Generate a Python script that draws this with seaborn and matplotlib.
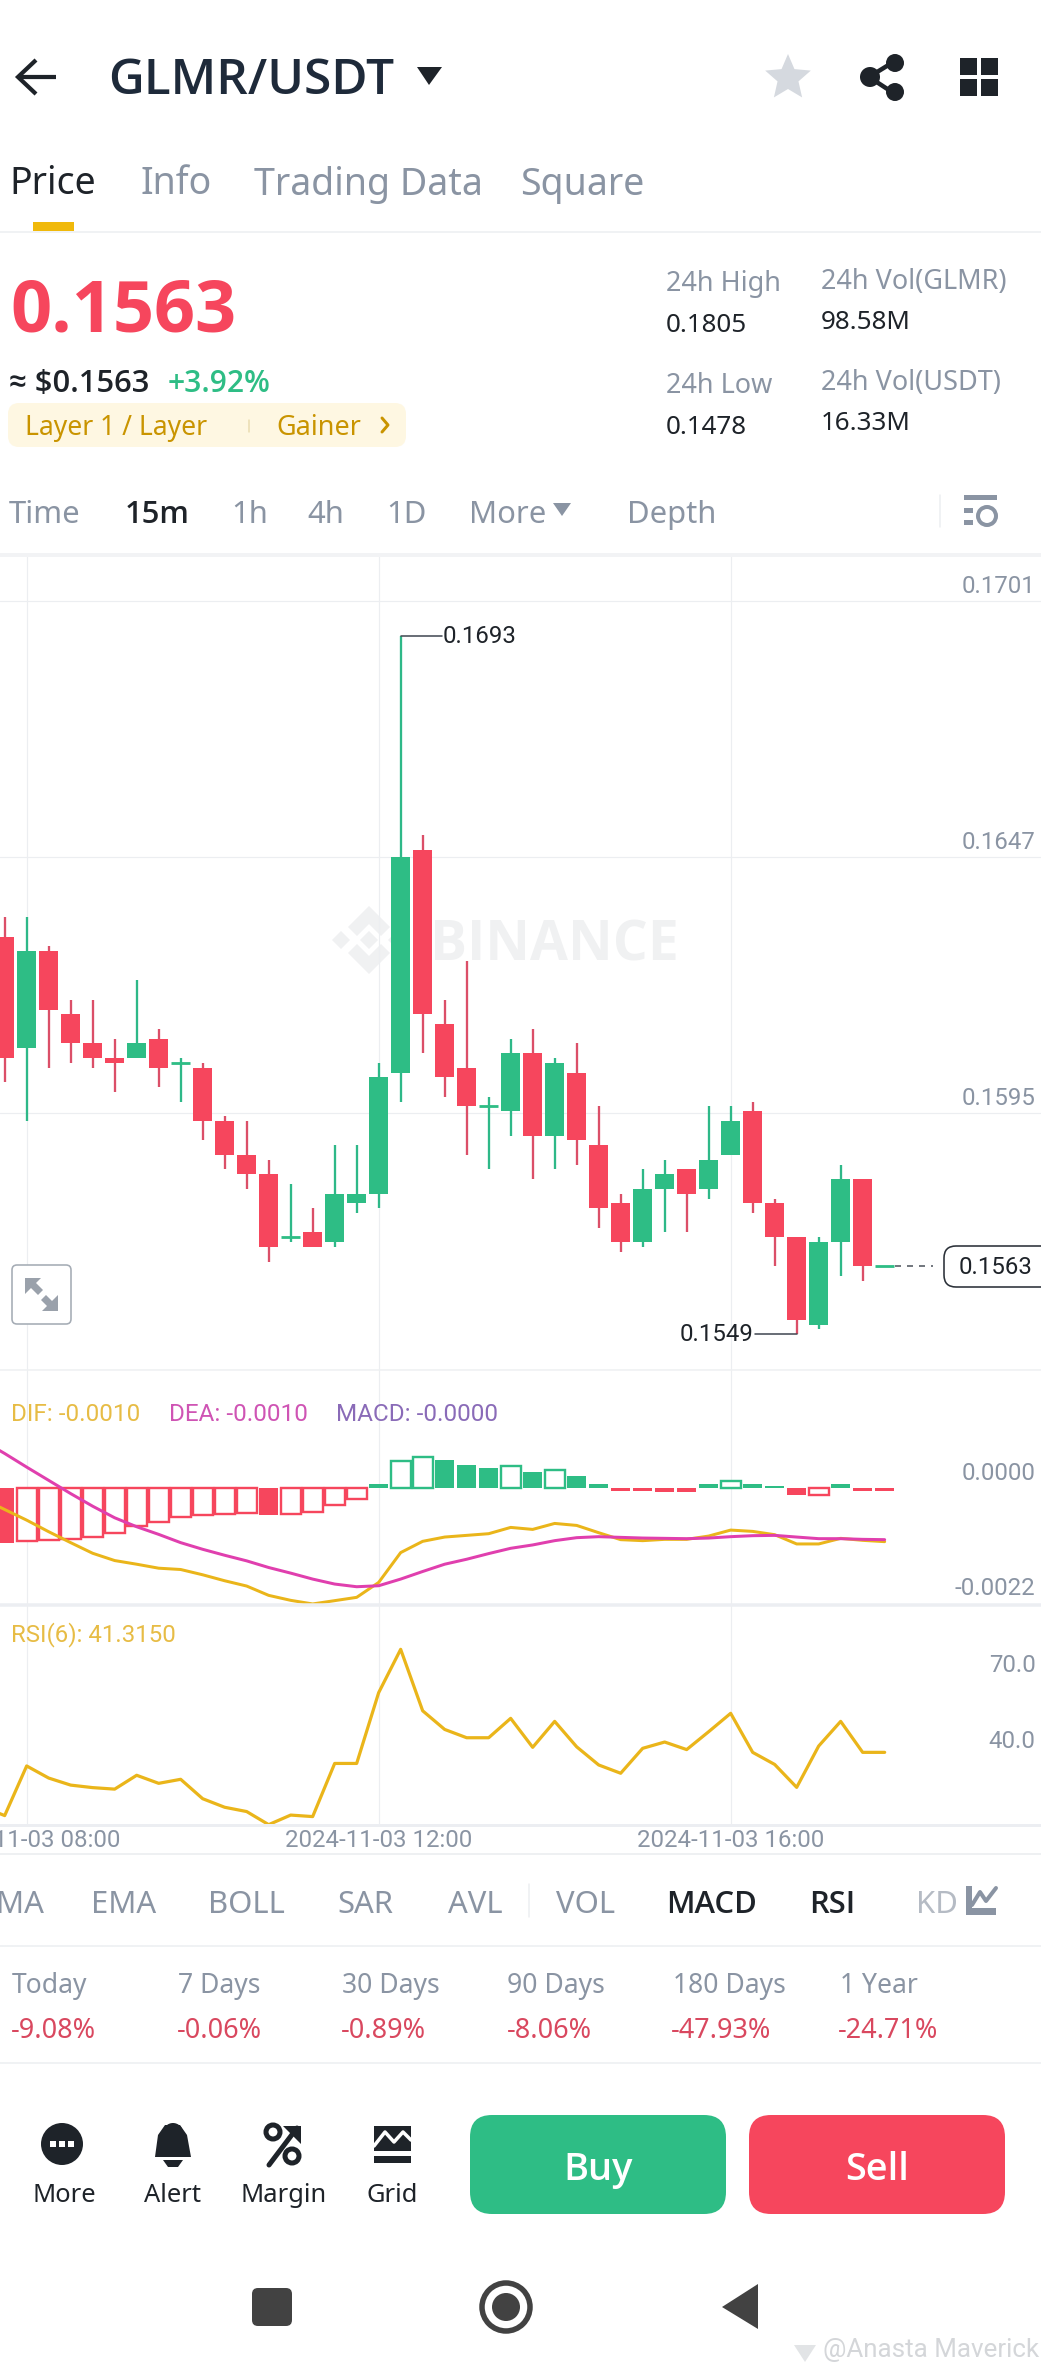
import numpy as np
import matplotlib
matplotlib.use("Agg")
import matplotlib.pyplot as plt
from matplotlib import font_manager as fm
from matplotlib.patches import FancyBboxPatch, Polygon, Circle, Rectangle
from matplotlib.transforms import ScaledTranslation
import seaborn as sns

# ---------- data ----------
candle_idx = list(range(41))
open_p = [.1631,.1608,.1628,.1615,.1609,.1606,.1606,.1610,.1605,.1604,.1593,.1586,.1582,.1569,.1570,.1568,.1576,.1578,.1603,.1649,
          .1613,.1604,.1596,.1595,.1607,.1590,.1603,.1588,.1576,.1568,.1579,.1583,.1579,.1586,.1595,.1576,.1569,.1551,.1568,.1581,.1563]
close_p = [.1606,.1628,.1616,.1609,.1606,.1605,.1609,.1604,.1605,.1593,.1586,.1582,.1567,.1569,.1567,.1578,.1578,.1602,.16475,.1615,
           .1602,.1596,.1596,.1607,.1590,.1605,.1589,.1575,.1568,.1579,.1582,.1578,.1585,.1593,.1576,.1569,.1552,.1568,.1581,.1563,.1563]
high_p = [.1635,.1635,.1629,.1618,.1618,.1610,.1622,.1612,.1606,.1605,.1594,.1593,.1585,.1580,.1575,.1588,.1588,.1605,.1693,.1652,
          .1618,.1626,.1598,.1610,.1612,.1606,.1609,.1596,.1578,.1583,.1585,.1583,.1596,.1596,.1597,.1577,.1569,.1569,.1584,.1581,.1563]
low_p = [.1601,.1593,.1604,.1605,.1604,.1599,.1606,.1600,.1597,.1589,.1583,.1579,.1564,.1568,.1567,.1567,.1574,.1575,.1597,.1607,
         .1598,.1586,.1583,.1590,.1581,.1583,.1584,.1571,.1566,.1567,.1570,.1570,.1577,.1586,.1574,.1563,.1549,.1550,.1561,.1560,.1563]
price_ticks = [.17003, .16475, .15946, .15417]
price_labels = ["0.1701", "0.1647", "0.1595", "0.1541"]
price_range = (.154171, .170977)
last_price = .1563

line_idx = list(range(-1, 41))
dif_e4 = [-2.0,-4.05,-6.08,-8.29,-10.38,-12.41,-13.80,-14.50,-15.26,-15.51,-16.52,-17.66,-18.67,-20.45,-21.40,-22.09,-21.46,-20.83,-17.98,-12.28,-10.13,
          -9.31,-8.99,-8.67,-7.47,-7.85,-6.71,-7.09,-8.48,-9.81,-10.00,-9.75,-9.75,-9.12,-7.98,-8.23,-8.86,-10.63,-10.63,-9.56,-9.94,-10.19]
dea_e4 = [9.1,6.65,4.05,1.52,-1.01,-3.42,-5.63,-7.34,-8.80,-10.38,-11.65,-12.79,-13.86,-15.13,-16.20,-17.34,-18.29,-18.80,-18.61,-17.34,-15.89,
          -14.50,-13.55,-12.47,-11.46,-10.82,-10.00,-9.43,-9.24,-9.37,-9.50,-9.56,-9.62,-9.50,-9.24,-9.05,-8.99,-9.31,-9.62,-9.62,-9.75,-9.81]
hist_e4 = [-10.5,-10.06,-9.87,-9.75,-9.24,-8.61,-7.22,-6.46,-5.44,-5.13,-4.94,-4.81,-5.13,-4.94,-4.56,-3.10,-1.96,.76,5.25,5.95,
           5.32,4.49,3.86,4.18,3.04,3.42,2.28,.82,-.44,-.44,-.76,-.76,.76,1.46,.76,.44,-1.27,-1.27,.76,-.44,-.44]
hist_hollow = [0,1,1,1,1,1,1,1,1,1,1,1,0,1,1,1,1,0,1,1,0,0,0,1,0,1,0,0,0,0,0,0,0,1,0,0,0,1,0,0,0]
macd_ticks = [0.0, -.0022]
macd_labels = ["0.0000", "-0.0022"]
rsi_vals = [19.7,16.2,35.9,31.1,28.3,27.3,26.7,32.2,29.0,30.6,22.9,19.5,17.8,12.6,16.4,15.8,36.9,36.9,65.0,82.2,57.8,
            50.4,47.1,47.1,54.8,43.3,53.6,43.5,36.3,33.0,42.9,45.4,42.4,49.5,56.8,41.3,36.5,27.4,43.8,53.6,41.3,41.3]
rsi_ticks = [70.0, 40.0]
rsi_labels = ["70.0", "40.0"]
time_ticks = [1, 17, 33]
time_labels = ["2024-11-03 08:00", "2024-11-03 12:00", "2024-11-03 16:00"]

stats_left = [("24h High", "0.1805"), ("24h Low", "0.1478")]
stats_right = [("24h Vol(GLMR)", "98.58M"), ("24h Vol(USDT)", "16.33M")]
periods = ["Today", "7 Days", "30 Days", "90 Days", "180 Days", "1 Year"]
period_changes = ["-9.08%", "-0.06%", "-0.89%", "-8.06%", "-47.93%", "-24.71%"]

# ---------- style ----------
RED, GREEN = "#F6465D", "#2EBD85"
RED_W, GREEN_W = "#DB4F68", "#2EB888"
DARK, GRAY, GRID = "#1E2329", "#8A94A3", "#ECEEF1"
YEL, PINK = "#EAB51A", "#E03FAE"
W, H = 1041, 2372
sns.set_theme(style="white")
plt.rcParams["font.family"] = ["Noto Sans", "DejaVu Sans"]
fig = plt.figure(figsize=(W / 100, H / 100), dpi=100, facecolor="white")
PX = 0.72  # points per pixel


def numeric_weight(w):
    if isinstance(w, str):
        return {"bold": 700, "semibold": 600, "demibold": 600, "medium": 500, "heavy": 800, "black": 900}.get(w, 400)
    return w


def family_with_weight(lo, hi):
    for name in ["Noto Sans", "Open Sans", "Inter", "Lato", "Roboto", "Liberation Sans", "DejaVu Sans"]:
        for f in fm.fontManager.ttflist:
            if f.name == name and f.style == "normal" and lo <= numeric_weight(f.weight) <= hi:
                return name, numeric_weight(f.weight)
    return "DejaVu Sans", 700


BOLD_FAM, BOLD_W = family_with_weight(650, 750)
MED_FAM, MED_W = family_with_weight(500, 650)
if MED_FAM == "DejaVu Sans":
    MED_FAM, MED_W = BOLD_FAM, BOLD_W


def pixel_axes(top, bottom, z):
    a = fig.add_axes([0, 1 - bottom / H, 1, (bottom - top) / H], zorder=z)
    a.patch.set_alpha(0)
    return a


bg = fig.add_axes([0, 0, 1, 1], zorder=0)
bg.set_xlim(0, W); bg.set_ylim(H, 0); bg.axis("off")
ui = fig.add_axes([0, 0, 1, 1], zorder=5)
ui.set_xlim(0, W); ui.set_ylim(H, 0); ui.axis("off"); ui.patch.set_alpha(0)
ax_p = pixel_axes(555, 1369.6, 1)
ax_m = pixel_axes(1370, 1604, 1)
ax_r = pixel_axes(1605, 1825, 1)

XLIM = (-4.67 / 22, (W - 4.67) / 22)
for a, ticks, labels in [(ax_p, price_ticks, price_labels), (ax_m, macd_ticks, macd_labels), (ax_r, rsi_ticks, rsi_labels)]:
    a.set_xlim(*XLIM)
    for s in a.spines.values():
        s.set_visible(False)
    a.set_xticks(time_ticks)
    a.set_xticklabels([])
    a.set_yticks(ticks)
    a.set_yticklabels(labels, fontfamily="Roboto", fontsize=24 * PX, color=GRAY, ha="right", va="bottom")
    a.yaxis.tick_right()
    a.tick_params(axis="y", direction="in", length=0, pad=-5.5 * PX)
    a.tick_params(axis="x", length=0)
    a.grid(False)
    for t in time_ticks:
        a.axvline(t, color=GRID, lw=1.2 * PX, zorder=0)
    for lab in a.get_yticklabels():
        lab.set_transform(lab.get_transform() + ScaledTranslation(0, 3 / 100, fig.dpi_scale_trans))

ax_p.set_ylim(*price_range)
ax_m.set_ylim(-.00221, .00226)
ax_r.set_ylim(12.46, 99.8)
for v in price_ticks:
    ax_p.axhline(v, color=GRID, lw=1.2 * PX, zorder=0)

# candles
BODY = 0.88
for i, o, c, h, l in zip(candle_idx, open_p, close_p, high_p, low_p):
    up = c > o or (c == o and i in (8, 13, 22, 40))
    col, wick = (GREEN, GREEN_W) if up else (RED, RED_W)
    ax_p.vlines(i, l, h, color=wick, lw=2.3 * PX, capstyle="butt", zorder=2)
    if o == c:
        ax_p.hlines(o, i - BODY / 2, i + BODY / 2, color=col, lw=2.8 * PX, zorder=3)
    else:
        ax_p.bar(i, abs(o - c), bottom=min(o, c), width=BODY, color=col, lw=0, zorder=3)

hi_i, lo_i = int(np.argmax(high_p)), int(np.argmin(low_p))
ax_p.plot([hi_i, hi_i + 41 / 22], [high_p[hi_i]] * 2, color="#474D57", lw=1.6 * PX, zorder=4)
ax_p.text(hi_i + 42 / 22, high_p[hi_i], "0.1693", fontfamily="Roboto", fontsize=24 * PX, color=DARK, ha="left", va="center")
ax_p.plot([lo_i - 42 / 22, lo_i], [low_p[lo_i]] * 2, color="#474D57", lw=1.6 * PX, zorder=4)
ax_p.text(lo_i - 43 / 22, low_p[lo_i], "0.1549", fontfamily="Roboto", fontsize=24 * PX, color=DARK, ha="right", va="center")
ax_p.plot([40.45, 42.2], [last_price] * 2, color="#474D57", lw=1.5 * PX, dashes=(4, 4), zorder=4)

# MACD
hist = np.array(hist_e4) * 1e-4
for i, v, hol in zip(candle_idx, hist, hist_hollow):
    col = GREEN if v > 0 else RED
    if hol:
        ax_m.bar(i, v, width=0.9, facecolor="white", edgecolor=col, lw=2.4 * PX, zorder=2)
    else:
        ax_m.bar(i, v, width=0.88, color=col, lw=0, zorder=2)
sns.lineplot(x=line_idx, y=np.array(dif_e4) * 1e-4, ax=ax_m, color=YEL, lw=3 * PX, zorder=3, errorbar=None)
sns.lineplot(x=line_idx, y=np.array(dea_e4) * 1e-4, ax=ax_m, color=PINK, lw=3 * PX, zorder=4, errorbar=None)
sns.lineplot(x=line_idx, y=rsi_vals, ax=ax_r, color=YEL, lw=3.2 * PX, zorder=3, errorbar=None)
ax_m.set_ylabel(""); ax_r.set_ylabel("")
ax_m.set_xlim(*XLIM); ax_r.set_xlim(*XLIM)

ax_r.set_xticks(time_ticks)
ax_r.set_xticklabels(time_labels, fontfamily="Roboto", fontsize=24 * PX, color=GRAY)
ax_r.tick_params(axis="x", pad=3.2)


def T(x, y, s, size, color=DARK, ha="left", weight="normal", fam=None, a=None, **k):
    family = fam or ["Noto Sans", "DejaVu Sans"]
    wt = 400
    if weight == "bold":
        family, wt = [BOLD_FAM, "DejaVu Sans"], BOLD_W
    elif weight == "medium":
        family, wt = [MED_FAM, "DejaVu Sans"], MED_W
    return (a or ui).text(x, y + 0.12 * size, s, fontsize=size * PX, color=color, ha=ha, va="center", fontweight=wt, family=family, **k)


def rrect(x0, y0, x1, y1, r, fc, ec="none", lw=0, a=None):
    (a or ui).add_patch(FancyBboxPatch((x0 + r, y0 + r), x1 - x0 - 2 * r, y1 - y0 - 2 * r, boxstyle=f"round,pad={r}", fc=fc, ec=ec, lw=lw))


def hline(y, c=GRID, lw=1.5, x0=0, x1=W):
    ui.plot([x0, x1], [y, y], color=c, lw=lw * PX)


def poly(pts, c, a=None):
    (a or ui).add_patch(Polygon(pts, closed=True, fc=c, ec="none"))


# watermark (behind the candles)
WM = "#F0F1F2"
for cx, cy in [(369, 940), (341, 940), (397, 940)]:
    r = 9
    poly([(cx - r, cy), (cx, cy - r), (cx + r, cy), (cx, cy + r)], WM, bg)
poly([(369, 906), (390, 927), (381, 936), (369, 924), (357, 936), (348, 927)], WM, bg)
poly([(369, 974), (390, 953), (381, 944), (369, 956), (357, 944), (348, 953)], WM, bg)
T(430, 939, "BINANCE", 55, WM, weight="bold", a=bg)

# header
ui.plot([21, 56], [77, 77], color=DARK, lw=4.2 * PX, solid_capstyle="butt")
ui.plot([36, 18, 36], [60, 77, 94], color=DARK, lw=4.2 * PX, solid_joinstyle="miter", solid_capstyle="butt")
T(108, 76, "GLMR/USDT", 49.5, "#1E2A3A", weight="medium")
poly([(417, 67), (442, 67), (429, 85)], DARK)
st = [(788 + (24 if k % 2 == 0 else 11) * np.sin(k * np.pi / 5), 78 - (24 if k % 2 == 0 else 11) * np.cos(k * np.pi / 5)) for k in range(10)]
poly(st, "#D5D9DF")
ui.plot([895, 869, 895], [61, 77, 94], color=DARK, lw=4.5 * PX)
for cx, cy, r in [(895, 63, 9), (870, 77, 10), (895, 92, 9)]:
    ui.add_patch(Circle((cx, cy), r, fc=DARK, ec="none"))
for x0, y0 in [(960, 58), (981, 58), (960, 79), (981, 79)]:
    ui.add_patch(Rectangle((x0, y0), 17, 17, fc=DARK, ec="none"))

# tabs
for x, s, c in [(9, "Price", DARK), (141, "Info", GRAY), (254, "Trading Data", GRAY), (520, "Square", GRAY)]:
    T(x, 180, s, 37.5, c)
ui.add_patch(Rectangle((33, 222), 41, 9, fc="#F0B90B", ec="none"))
hline(232)

# price block
T(10, 303.5, "0.1563", 72, RED, weight="bold")
T(9, 380, "≈ $0.1563", 31, DARK, weight="medium")
T(168, 380, "+3.92%", 30, GREEN, weight="medium")
rrect(8, 403, 406, 447, 11, "#FEF7E2")
T(25, 425, "Layer 1 / Layer", 26.5, "#C99400")
ui.plot([249, 249], [420, 432], color="#E9DCB0", lw=1.5 * PX)
T(276, 425, "Gainer", 27, "#C99400")
ui.plot([382, 388, 382], [418, 425, 432], color="#C99400", lw=3 * PX)
for (lab, val), x, ys in zip(stats_left + stats_right, [666, 666, 821, 821], [(281, 322), (383, 424), (279, 319), (380, 420)]):
    T(x, ys[0], lab, 27, GRAY)
    T(x, ys[1], val, 26, DARK)

# interval row
for x, s, c, wt in [(9, "Time", GRAY, "normal"), (125, "15m", DARK, "medium"), (231, "1h", GRAY, "normal"), (307, "4h", GRAY, "normal"),
                    (386, "1D", GRAY, "normal"), (469, "More", GRAY, "normal"), (627, "Depth", GRAY, "normal")]:
    T(x, 511.5, s, 31, c, weight=wt)
poly([(553, 503), (571, 503), (562, 516)], GRAY)
ui.plot([940, 940], [495, 527], color=GRID, lw=1.5 * PX)
ui.add_patch(Rectangle((964, 495), 33, 5, fc=GRAY, ec="none"))
ui.add_patch(Rectangle((964, 508), 9, 5, fc=GRAY, ec="none"))
ui.add_patch(Rectangle((964, 520), 9, 5, fc=GRAY, ec="none"))
ui.add_patch(Circle((987, 516), 9, fc="white", ec=GRAY, lw=4 * PX))
hline(555, "#F2F3F5", 4)

# chart labels and tag
T(11, 1412, "DIF: -0.0010", 24.3, "#E7BC45", fam="Roboto")
T(169, 1412, "DEA: -0.0010", 24.3, "#CF54B4", fam="Roboto")
T(336, 1412, "MACD: -0.0000", 24.3, "#8A6BB8", fam="Roboto")
T(11, 1632, "RSI(6): 41.3150", 24, "#E7BC45", fam="Roboto")
rrect(944, 1246, 1060, 1287, 12, "white", "#2B3139", 1.6 * PX)
T(1033, 1265, "0.1563", 24, DARK, ha="right", fam="Roboto")
rrect(12, 1265, 71, 1324, 5, "white", "#A5ACB5", 1.6 * PX)
poly([(25, 1278), (41, 1278), (36, 1283), (43, 1290), (38, 1295), (31, 1288), (25, 1294)], "#9AA1AB")
poly([(58, 1311), (42, 1311), (47, 1306), (41, 1300), (46, 1295), (52, 1301), (58, 1295)], "#9AA1AB")
hline(1369.5, "#EEF0F2", 1.5)
hline(1605, "#ECEEF2", 3.5)
hline(1825, "#ECEEF2", 3)
hline(1854, "#EEF0F2", 2)

# indicator row
for x, s, c, wt in [(-4, "MA", GRAY, "normal"), (91, "EMA", GRAY, "normal"), (208, "BOLL", GRAY, "normal"), (337, "SAR", GRAY, "normal"),
                    (448, "AVL", GRAY, "normal"), (556, "VOL", GRAY, "normal"), (666, "MACD", DARK, "medium"), (809, "RSI", DARK, "medium")]:
    T(x, 1901, s, 31, c, weight=wt)
T(916, 1901, "KD", 31, "#B5BBC4")
ui.plot([529, 529], [1884, 1917], color=GRID, lw=1.5 * PX)
poly([(966, 1886), (972, 1886), (972, 1908), (996, 1908), (996, 1915), (966, 1915)], GRAY)
ui.plot([972, 980, 986, 996], [1905, 1892, 1901, 1888], color=GRAY, lw=4 * PX)
hline(1946)

# period row
for x, xv, p, ch in zip([12, 178, 342, 507, 673, 840], [11, 177, 341, 507, 671, 838], periods, period_changes):
    T(x, 1983, p, 26.5, GRAY)
    T(xv, 2027.5, ch, 27, "#D9485F")
hline(2063)

# bottom bar
ui.add_patch(Circle((62, 2144), 21, fc=DARK, ec="none"))
for dx in (-9, 0, 9):
    ui.add_patch(Rectangle((62 + dx - 3, 2141), 6, 6, fc="white", ec="none"))
poly([(155, 2157), (158, 2135), (165, 2125), (180, 2125), (187, 2135), (191, 2157)], DARK)
ui.add_patch(Circle((173, 2133), 10, fc=DARK, ec="none"))
poly([(163, 2160), (183, 2160), (178, 2167), (168, 2167)], DARK)
ui.add_patch(Circle((273, 2132), 7, fc="white", ec=DARK, lw=5 * PX))
ui.add_patch(Circle((292, 2156), 7, fc="white", ec=DARK, lw=5 * PX))
ui.plot([269, 297], [2165, 2128], color=DARK, lw=5 * PX)
poly([(283, 2126), (301, 2126), (301, 2144)], DARK)
ui.add_patch(Rectangle((374, 2126), 37, 25, fc=DARK, ec="none"))
ui.plot([374, 385, 394, 403, 411], [2146, 2132, 2142, 2132, 2140], color="white", lw=3.5 * PX)
ui.add_patch(Rectangle((374, 2156), 37, 7, fc=DARK, ec="none"))
for x, s in [(64, "More"), (173, "Alert"), (284, "Margin"), (392, "Grid")]:
    T(x, 2192.5, s, 25.5, DARK, ha="center")
rrect(470, 2115, 726, 2214, 22, GREEN)
rrect(749, 2115, 1005, 2214, 22, RED)
T(598, 2165, "Buy", 38, "white", ha="center", weight="medium")
T(877, 2165, "Sell", 38, "white", ha="center", weight="medium")

# nav bar
rrect(252, 2288, 292, 2326, 6, "#424242")
ui.add_patch(Circle((506, 2307), 24, fc="white", ec="#424242", lw=5.5 * PX))
ui.add_patch(Circle((506, 2307), 14, fc="#424242", ec="none"))
poly([(758, 2284), (758, 2329), (722, 2307)], "#424242")
T(823, 2347, "@Anasta Maverick", 26, "#D4D6D9", fam="Roboto")
poly([(794, 2345), (816, 2345), (805, 2362)], "#E2E4E6")

fig.savefig("out.png", dpi=100)
